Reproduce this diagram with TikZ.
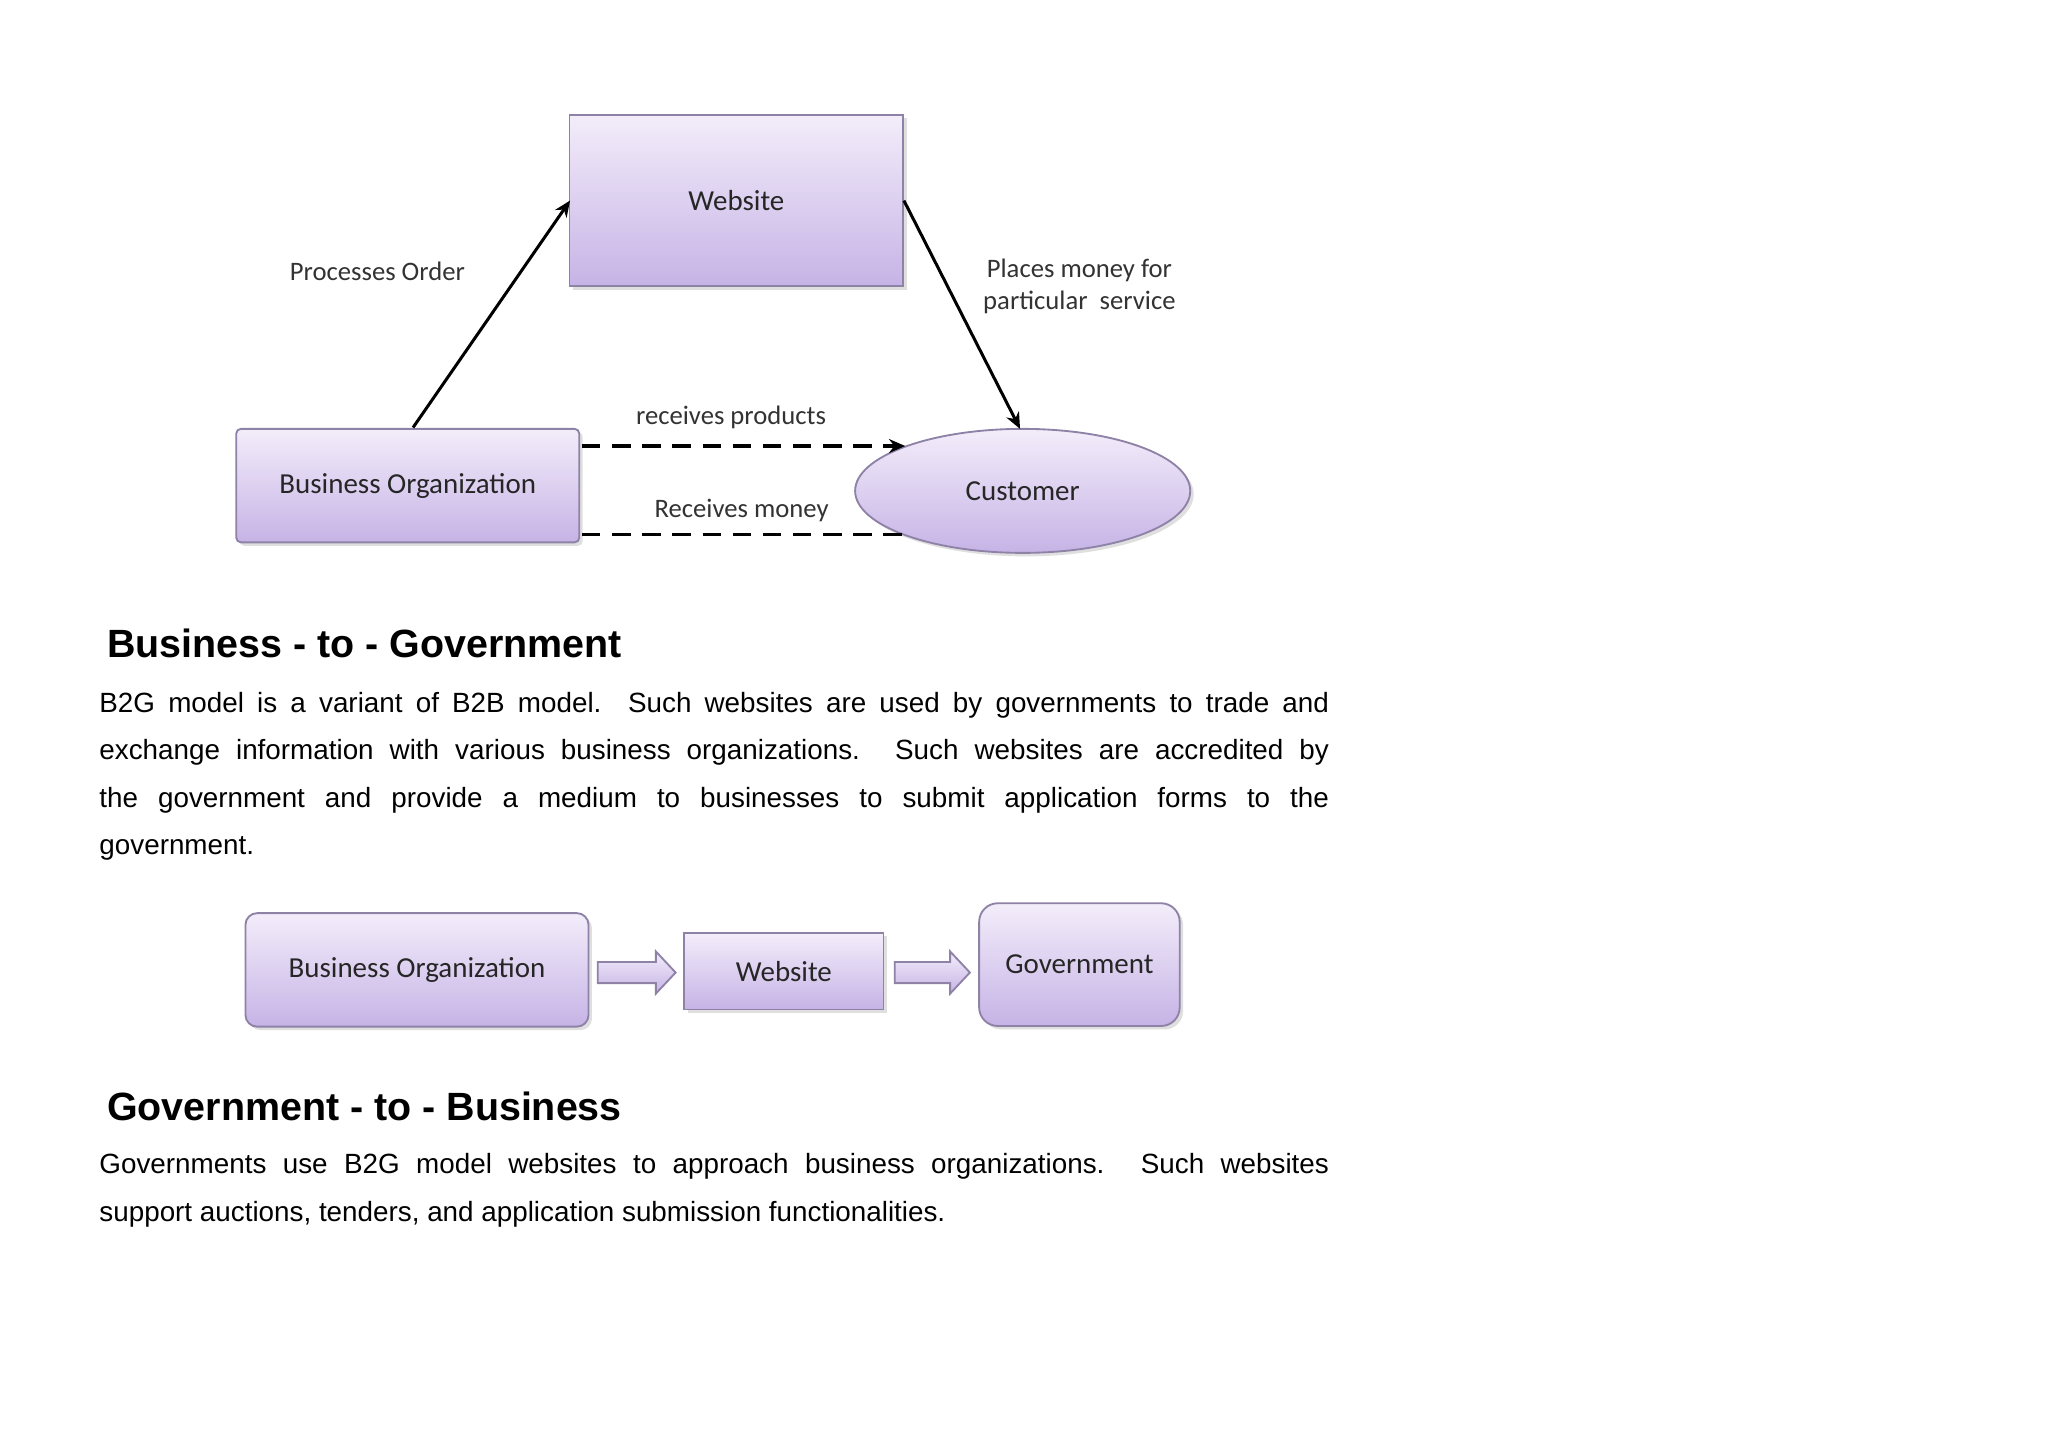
\documentclass[tikz,border=0pt]{standalone}
\usepackage{fontspec}
\setmainfont{Liberation Sans}
\newfontfamily\diag{Carlito}
\usetikzlibrary{arrows.meta,shapes.geometric,shadows}
\definecolor{ftop}{HTML}{F3EDFA}
\definecolor{fbot}{HTML}{C6B3E6}
\definecolor{bord}{HTML}{8E82A6}
\begin{document}
\begin{tikzpicture}[x=0.02cm,y=-0.02cm,
  box/.style={draw=bord,line width=0.8pt,top color=ftop,bottom color=fbot,font=\diag\fontsize{12.5}{14}\selectfont,text=black!85,drop shadow={opacity=0.25,shadow xshift=1.5pt,shadow yshift=-1.5pt}},
  lbl/.style={font=\diag\fontsize{11.5}{14}\selectfont,text=black!80,align=center},
  arr/.style={-{Stealth[length=7pt,width=6pt]},line width=1.3pt},
  dsh/.style={line width=1.6pt,dash pattern=on 8pt off 5pt},
  blk/.style={draw=bord,line width=0.8pt,top color=ftop,bottom color=fbot},
  head/.style={font=\bfseries\fontsize{17}{20}\selectfont,anchor=base west},
  para/.style={font=\fontsize{12}{20.5}\selectfont,anchor=north west,text width=18.64cm,align=justify,inner sep=0pt}]
\useasboundingbox[fill=white] (0,0) rectangle (1552,1097);
% diagram 1
\node[box,minimum width=5.06cm,minimum height=2.6cm] (web) at (558,152) {Website};
\node[box,minimum width=5.2cm,minimum height=1.72cm,rounded corners=2pt] (bo) at (309,368) {Business Organization};
\node[box,ellipse,minimum width=5.08cm,minimum height=1.88cm] (cu) at (775,372) {Customer};
\coordinate (boT) at (313,324);
\coordinate (webL) at (432,152);
\coordinate (webR) at (685,152);
\coordinate (cuT) at (773,325);
\draw[arr] (boT) -- (webL);
\draw[arr] (webR) -- (cuT);
\coordinate (d1a) at (441,338); \coordinate (d1b) at (686,338);
\coordinate (d2a) at (441,405); \coordinate (d2b) at (686,405);
\draw[dsh,-{Stealth[length=7pt,width=6pt]}] (d1a) -- (d1b);
\draw[dsh] (d2a) -- (d2b);
\node[lbl] (l1) at (286,206) {Processes Order};
\node[lbl] (l2) at (818,217) {Places money for\\particular\ \ service};
\node[lbl] (l3) at (554,316) {receives products};
\node[lbl] (l4) at (562,387) {Receives money};
% heading 1
\node[head] (h1) at (75,498) {Business - to - Government};
\node[para] (p1) at (75,524) {B2G model is a variant of B2B model. Such websites are used by governments to trade and\linebreak exchange information with various business organizations. Such websites are accredited by\linebreak the government and provide a medium to businesses to submit application forms to the\linebreak government.};
% diagram 2
\node[box,minimum width=5.2cm,minimum height=1.72cm,rounded corners=5pt] (bo2) at (316,735) {Business Organization};
\node[box,minimum width=3.02cm,minimum height=1.16cm] (web2) at (594,736) {Website};
\node[box,minimum width=3.04cm,minimum height=1.86cm,rounded corners=8pt] (gov) at (818,731) {Government};
\draw[blk] (453,729) -- (497,729) -- (497,721) -- (512,737) -- (497,753) -- (497,745) -- (453,745) -- cycle;
\draw[blk] (678,729) -- (720,729) -- (720,721) -- (735,737) -- (720,753) -- (720,745) -- (678,745) -- cycle;
% heading 2
\node[head] (h2) at (75,849) {Government - to - Business};
\node[para] (p2) at (75,874) {Governments use B2G model websites to approach business organizations. Such websites\linebreak support auctions, tenders, and application submission functionalities.};
\end{tikzpicture}
\end{document}
